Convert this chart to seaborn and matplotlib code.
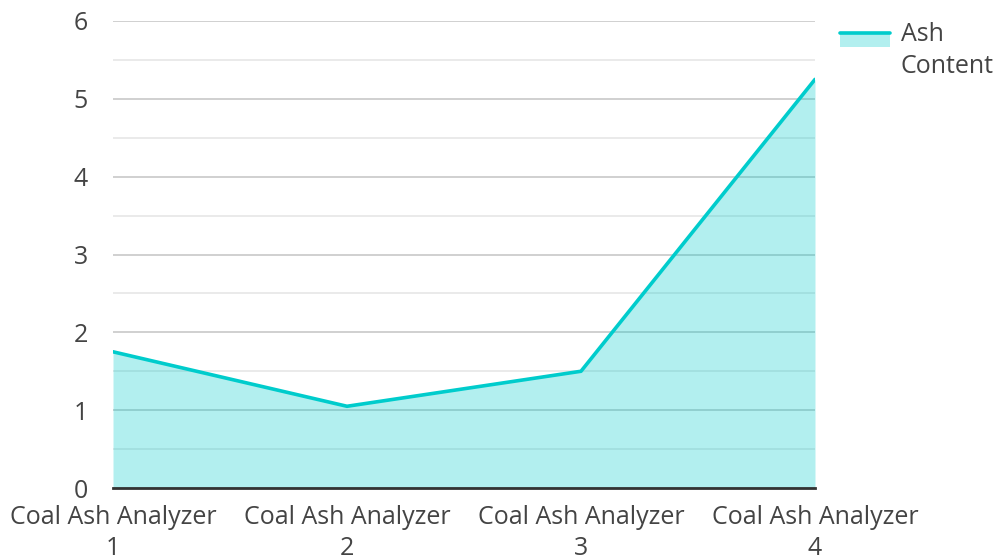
import matplotlib
matplotlib.use("Agg")
import matplotlib.pyplot as plt
import seaborn as sns
import pandas as pd
import numpy as np
from matplotlib.patches import Rectangle
from matplotlib.lines import Line2D
from matplotlib.legend_handler import HandlerBase
from matplotlib.ticker import MultipleLocator

categories = ["Coal Ash Analyzer\n1", "Coal Ash Analyzer\n2", "Coal Ash Analyzer\n3", "Coal Ash Analyzer\n4"]
values = [1.75, 1.05, 1.5, 5.25]
series_name = "Ash\nContent"
y_ticks = [0, 1, 2, 3, 4, 5, 6]

LINE = "#00cccc"
TEXT = "#444444"
FS = 18

sns.set_theme(style="white")
plt.rcParams["font.family"] = ["Open Sans", "DejaVu Sans"]

df = pd.DataFrame({"x": np.arange(len(categories)), "y": values})

fig = plt.figure(figsize=(9.96, 5.58), dpi=100)
ax = fig.add_axes([113 / 996, 1 - 488 / 558, (815 - 113) / 996, (488 - 21) / 558])

sns.lineplot(data=df, x="x", y="y", ax=ax, color=LINE, linewidth=2.6, zorder=3)
ax.fill_between(df["x"], df["y"], 0, color=LINE, alpha=0.3, linewidth=0, zorder=2)

ax.set_xlim(0, len(categories) - 1)
ax.set_ylim(0, 6)
ax.set_xticks(df["x"])
ax.set_xticklabels(categories, fontsize=FS, color=TEXT, linespacing=1.35)
ax.set_yticks(y_ticks)
ax.set_yticklabels([str(t) for t in y_ticks], fontsize=FS, color=TEXT)
ax.yaxis.set_minor_locator(MultipleLocator(0.5))
ax.set_axisbelow(True)
ax.grid(which="major", axis="y", color="#c8c8c8", linewidth=1.2)
ax.grid(which="minor", axis="y", color="#e6e6e6", linewidth=1.2)
ax.tick_params(axis="y", which="both", length=0, pad=18)
ax.tick_params(axis="x", length=0, pad=12)
ax.set_xlabel("")
ax.set_ylabel("")
for s in ["left", "right", "top"]:
    ax.spines[s].set_visible(False)
ax.spines["bottom"].set_color("#333333")
ax.spines["bottom"].set_linewidth(2)


class AreaHandler(HandlerBase):
    def create_artists(self, legend, orig_handle, xdescent, ydescent, width, height, fontsize, trans):
        top = height * 0.75 + 10
        rect = Rectangle((-xdescent, -ydescent + top - 10), width, 10,
                         facecolor=LINE, alpha=0.3, linewidth=0, transform=trans)
        line = Line2D([-xdescent, -xdescent + width], [-ydescent + top, -ydescent + top],
                      color=LINE, linewidth=2.6, transform=trans)
        return [rect, line]


proxy = Line2D([], [], color=LINE)
leg = fig.legend([proxy], [series_name], handler_map={Line2D: AreaHandler()},
                 loc="upper left", bbox_to_anchor=(840 / 996, 1 - 22 / 558),
                 frameon=False, fontsize=FS, handlelength=2.0, handletextpad=0.42,
                 borderaxespad=0, borderpad=0)
for t in leg.get_texts():
    t.set_color(TEXT)
    t.set_linespacing(1.35)

fig.savefig("out.png", dpi=100)
